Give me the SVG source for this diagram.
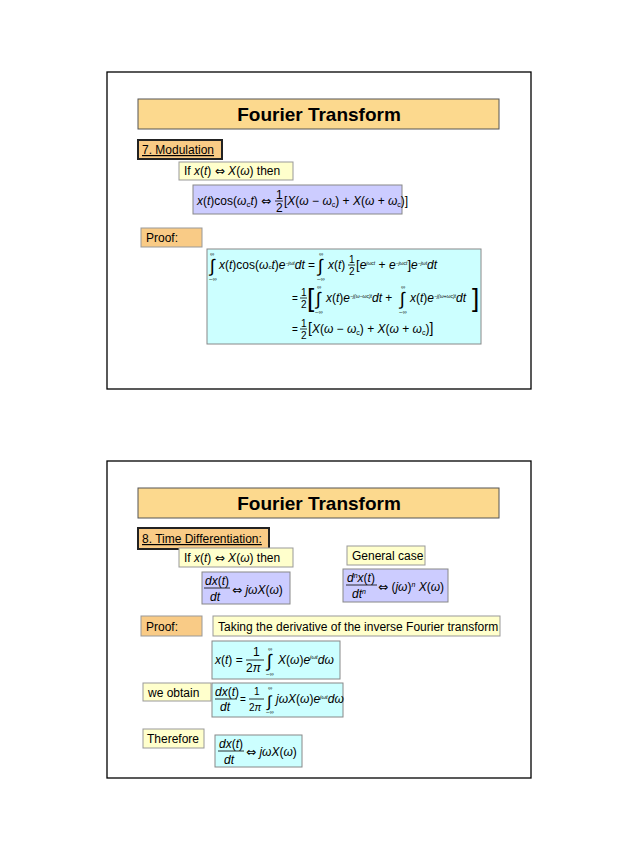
<svg xmlns="http://www.w3.org/2000/svg" width="638" height="851" viewBox="0 0 638 851">
<style>
text{font-family:"Liberation Sans",Arial,sans-serif;fill:#000}
.frame{fill:#fff;stroke:#000;stroke-width:1.3}
.title{fill:#fcd98e;stroke:#555;stroke-width:1}
.tt{font-size:19px;font-weight:bold;text-anchor:middle}
.lab{fill:#f9cb86;stroke:#222;stroke-width:2}
.org{fill:#f9cb86;stroke:#999;stroke-width:1}
.yel{fill:#ffffcc;stroke:#999;stroke-width:1}
.pur{fill:#ccccff;stroke:#888;stroke-width:1}
.cyn{fill:#ccffff;stroke:#888;stroke-width:1}
.t{font-size:12px}
.m{font-size:12px;font-style:italic}
.s{font-size:6px;font-style:italic}
.n{font-style:normal}
.a{font-family:"DejaVu Sans",sans-serif;font-style:normal}
.ln{stroke:#000;stroke-width:0.8}
</style>
<rect width="638" height="851" fill="#fff"/>
<g id="slide1">
<rect class="frame" x="107" y="72" width="424" height="317"/>
<rect class="title" x="138" y="99" width="361" height="30"/>
<text class="tt" x="319" y="121">Fourier Transform</text>
<rect class="lab" x="138" y="140" width="84" height="19"/>
<text class="t" x="142" y="154" text-decoration="underline">7. Modulation</text>
<rect class="yel" x="179" y="162" width="114" height="18"/>
<text class="t" x="184" y="175">If <tspan class="m">x</tspan>(<tspan class="m">t</tspan>) <tspan class="a">⇔</tspan> <tspan class="m">X</tspan>(<tspan class="m">ω</tspan>)  then</text>
<rect class="pur" x="193" y="185" width="209" height="29"/>
<text class="t" x="197" y="205"><tspan class="m">x</tspan>(<tspan class="m">t</tspan>)cos(<tspan class="m">ω</tspan><tspan font-size="8" dy="2">c</tspan><tspan class="m" dy="-2">t</tspan>) <tspan class="a">⇔</tspan></text>
<text class="t" x="276" y="199">1</text><line class="ln" x1="275" y1="201" x2="283" y2="201"/><text class="t" x="276" y="212">2</text>
<text class="t" x="284" y="205" font-size="14">[<tspan class="m" font-size="12">X</tspan><tspan font-size="12">(</tspan><tspan class="m" font-size="12">ω</tspan><tspan font-size="12"> − </tspan><tspan class="m" font-size="12">ω</tspan><tspan font-size="7" dy="2">c</tspan><tspan font-size="12" dy="-2">) + </tspan><tspan class="m" font-size="12">X</tspan><tspan font-size="12">(</tspan><tspan class="m" font-size="12">ω</tspan><tspan font-size="12"> + </tspan><tspan class="m" font-size="12">ω</tspan><tspan font-size="7" dy="2">c</tspan><tspan font-size="12" dy="-2">)</tspan>]</text>
<rect class="org" x="141" y="228" width="61" height="19"/>
<text class="t" x="146" y="242">Proof:</text>
<rect class="cyn" x="207" y="249" width="274" height="95"/>
<text font-size="18" x="210" y="272">∫</text><text class="s" x="210" y="256">∞</text><text class="s" x="209" y="281">−∞</text>
<text class="m" x="219" y="269" font-size="10">x<tspan class="n">(</tspan>t<tspan class="n">)cos(</tspan>ω<tspan class="n" font-size="6">c</tspan>t<tspan class="n">)</tspan>e<tspan font-size="5" dy="-4">−jωt</tspan><tspan dy="4">dt</tspan><tspan class="n"> =</tspan></text>
<text font-size="18" x="318" y="272">∫</text><text class="s" x="319" y="256">∞</text><text class="s" x="317" y="281">−∞</text>
<text class="m" x="328" y="269" font-size="10">x<tspan class="n">(</tspan>t<tspan class="n">)</tspan></text>
<text font-size="10" x="349" y="263">1</text><line class="ln" x1="348" y1="265" x2="355" y2="265"/><text font-size="10" x="349" y="275">2</text>
<text class="m" x="356" y="269" font-size="10"><tspan class="n" font-size="13">[</tspan>e<tspan font-size="5" dy="-4">jωct</tspan><tspan class="n" dy="4"> + </tspan>e<tspan font-size="5" dy="-4">−jωct</tspan><tspan class="n" font-size="13" dy="4">]</tspan>e<tspan font-size="5" dy="-4">−jωt</tspan><tspan dy="4">dt</tspan></text>
<text font-size="10" x="292" y="302">=</text>
<text font-size="10" x="301" y="296">1</text><line class="ln" x1="300" y1="298" x2="307" y2="298"/><text font-size="10" x="301" y="308">2</text>
<text font-size="26" x="307" y="307">[</text>
<text font-size="18" x="316" y="305">∫</text><text class="s" x="317" y="289">∞</text><text class="s" x="315" y="314">−∞</text>
<text class="m" x="326" y="302" font-size="10">x<tspan class="n">(</tspan>t<tspan class="n">)</tspan>e<tspan font-size="5" dy="-4">−j(ω−ωc)t</tspan><tspan dy="4">dt</tspan><tspan class="n"> + </tspan></text>
<text font-size="18" x="400" y="305">∫</text><text class="s" x="401" y="289">∞</text><text class="s" x="399" y="314">−∞</text>
<text class="m" x="410" y="302" font-size="10">x<tspan class="n">(</tspan>t<tspan class="n">)</tspan>e<tspan font-size="5" dy="-4">−j(ω+ωc)t</tspan><tspan dy="4">dt</tspan></text>
<text font-size="26" x="472" y="307">]</text>
<text font-size="10" x="292" y="333">=</text>
<text font-size="10" x="301" y="327">1</text><line class="ln" x1="300" y1="329" x2="307" y2="329"/><text font-size="10" x="301" y="339">2</text>
<text class="m" x="308" y="333" font-size="12"><tspan class="n" font-size="14">[</tspan>X<tspan class="n">(</tspan>ω<tspan class="n"> − </tspan>ω<tspan class="n" font-size="7" dy="2">c</tspan><tspan class="n" dy="-2">) + </tspan>X<tspan class="n">(</tspan>ω<tspan class="n"> + </tspan>ω<tspan class="n" font-size="7" dy="2">c</tspan><tspan class="n" dy="-2">)</tspan><tspan class="n" font-size="14">]</tspan></text>
</g>
<g id="slide2">
<rect class="frame" x="107" y="461" width="424" height="317"/>
<rect class="title" x="138" y="488" width="361" height="30"/>
<text class="tt" x="319" y="510">Fourier Transform</text>
<rect class="lab" x="138" y="528" width="131" height="21"/>
<text class="t" x="142" y="543" text-decoration="underline">8. Time Differentiation:</text>
<rect class="yel" x="179" y="548" width="114" height="19"/>
<text class="t" x="184" y="562">If <tspan class="m">x</tspan>(<tspan class="m">t</tspan>) <tspan class="a">⇔</tspan> <tspan class="m">X</tspan>(<tspan class="m">ω</tspan>)  then</text>
<rect class="yel" x="347" y="546" width="78" height="19"/>
<text class="t" x="352" y="560">General case</text>
<rect class="pur" x="202" y="572" width="88" height="32"/>
<text class="m" x="205" y="585">dx<tspan class="n">(</tspan>t<tspan class="n">)</tspan></text><line class="ln" x1="204" y1="588" x2="230" y2="588"/><text class="m" x="210" y="601">dt</text>
<text class="m" x="232" y="594"><tspan class="a">⇔</tspan> jωX<tspan class="n">(</tspan>ω<tspan class="n">)</tspan></text>
<rect class="pur" x="343" y="569" width="105" height="33"/>
<text class="m" x="347" y="582">d<tspan font-size="7" dy="-4">n</tspan><tspan dy="4">x</tspan><tspan class="n">(</tspan>t<tspan class="n">)</tspan></text><line class="ln" x1="346" y1="585" x2="377" y2="585"/><text class="m" x="352" y="598">dt<tspan font-size="7" dy="-4">n</tspan></text>
<text class="m" x="378" y="591"><tspan class="a">⇔</tspan><tspan class="n"> (</tspan>jω<tspan class="n">)</tspan><tspan font-size="7" dy="-4">n</tspan><tspan dy="4"> X</tspan><tspan class="n">(</tspan>ω<tspan class="n">)</tspan></text>
<rect class="org" x="141" y="616" width="61" height="20"/>
<text class="t" x="146" y="631">Proof:</text>
<rect class="yel" x="213" y="616" width="287" height="20"/>
<text class="t" x="218" y="631">Taking the derivative of the inverse Fourier transform</text>
<rect class="cyn" x="212" y="641" width="128" height="38"/>
<text class="m" x="215" y="664">x<tspan class="n">(</tspan>t<tspan class="n">) =</tspan></text>
<text class="t" x="253" y="656">1</text><line class="ln" x1="246" y1="660" x2="264" y2="660"/><text class="t" x="246" y="672">2<tspan class="m">π</tspan></text>
<text font-size="18" x="267" y="667">∫</text><text class="s" x="268" y="651">∞</text><text class="s" x="266" y="676">−∞</text>
<text class="m" x="278" y="664">X<tspan class="n">(</tspan>ω<tspan class="n">)</tspan>e<tspan font-size="6" dy="-5">jωt</tspan><tspan dy="5">dω</tspan></text>
<rect class="yel" x="143" y="683" width="68" height="18"/>
<text class="t" x="148" y="697">we obtain</text>
<rect class="cyn" x="212" y="683" width="131" height="34"/>
<text class="m" x="215" y="696" font-size="10">dx<tspan class="n">(</tspan>t<tspan class="n">)</tspan></text><line class="ln" x1="215" y1="699" x2="237" y2="699"/><text class="m" x="220" y="711" font-size="10">dt</text>
<text font-size="10" x="240" y="703">=</text>
<text font-size="10" x="254" y="695">1</text><line class="ln" x1="249" y1="699" x2="264" y2="699"/><text font-size="10" x="249" y="711">2<tspan font-style="italic">π</tspan></text>
<text font-size="16" x="267" y="707">∫</text><text class="s" x="268" y="690">∞</text><text class="s" x="266" y="714">−∞</text>
<text class="m" x="276" y="703" font-size="11">jωX<tspan class="n">(</tspan>ω<tspan class="n">)</tspan>e<tspan font-size="6" dy="-4">jωt</tspan><tspan dy="4">dω</tspan></text>
<rect class="yel" x="143" y="729" width="61" height="19"/>
<text class="t" x="147" y="743">Therefore</text>
<rect class="cyn" x="215" y="735" width="87" height="32"/>
<text class="m" x="219" y="748">dx<tspan class="n">(</tspan>t<tspan class="n">)</tspan></text><line class="ln" x1="218" y1="751" x2="244" y2="751"/><text class="m" x="224" y="764">dt</text>
<text class="m" x="246" y="756"><tspan class="a">⇔</tspan> jωX<tspan class="n">(</tspan>ω<tspan class="n">)</tspan></text>
</g>
</svg>
